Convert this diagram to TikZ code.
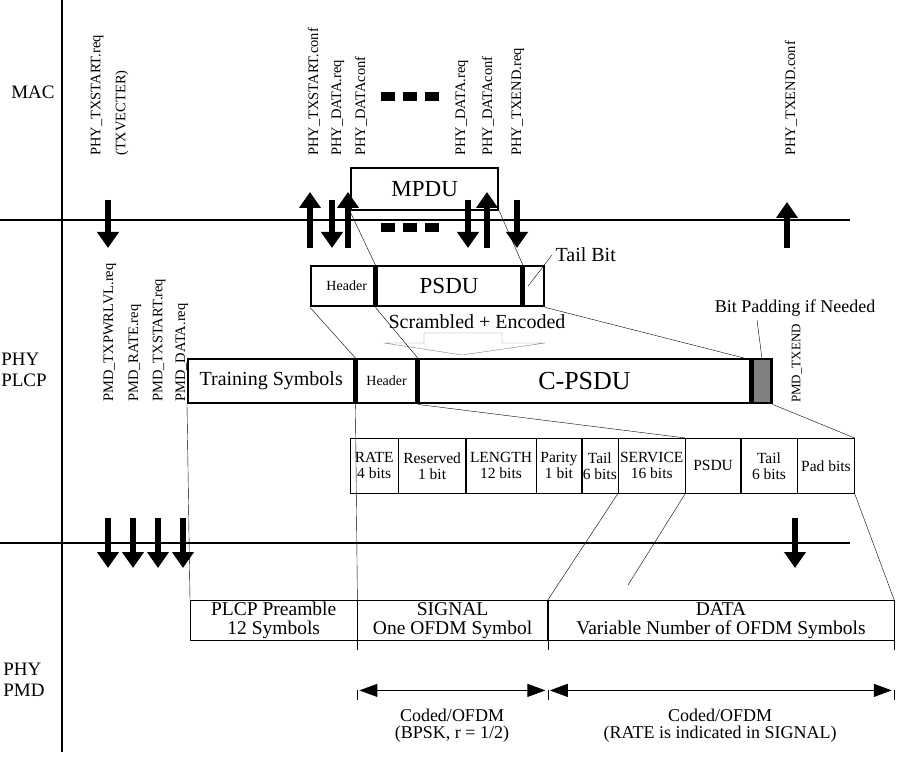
\documentclass[tikz,border=0pt]{standalone}
\usepackage{fontspec}
\setmainfont{Liberation Serif}
\usetikzlibrary{arrows.meta,positioning}

\tikzset{
  layer/.style={font=\fontsize{19}{21}\selectfont, align=left},
  prim/.style={rotate=90, anchor=west, inner sep=1pt, font=\fontsize{14.5}{15}\selectfont},
  bigbox/.style={draw, line width=2.4pt, inner sep=0pt},
  cell/.style={draw, thin, inner sep=0pt, font=\fontsize{15.5}{16}\selectfont, align=center},
  frame/.style={draw, thin, inner sep=0pt, font=\fontsize{19.5}{19}\selectfont, align=center},
  sig/.style={line width=5.5pt, -{Triangle[width=21pt,length=16pt]}},
  thinline/.style={draw, line width=0.4pt},
  dot/.style={fill, minimum width=14pt, minimum height=9pt, inner sep=0pt}
}

\begin{document}
\begin{tikzpicture}[x=1pt, y=-1pt]
	\useasboundingbox (0,0) rectangle (899,759);

	% layers
	\draw[line width=2pt] (62,0) -- (62,752);
	\draw[line width=2.4pt] (0,220) -- (850,220);
	\draw[line width=2.4pt] (0,543) -- (850,543);
	\node[layer] (mac)  at (33,92)  {MAC};
	\node[layer] (plcp) at (24,370) {PHY\\PLCP};
	\node[layer] (pmd)  at (24,680) {PHY\\PMD};

	% MAC primitives
	\foreach \x/\t in {97/PHY\_TXSTART.req, 122/(TXVECTER), 314/PHY\_TXSTART.conf,
		338/PHY\_DATA.req, 361/PHY\_DATAconf, 462/PHY\_DATA.req, 488/PHY\_DATAconf,
		518/PHY\_TXEND.req, 791/PHY\_TXEND.conf}
		\node[prim] at (\x,157) {\t};
	\foreach \x in {388,410,432} {
		\node[dot] at (\x,97) {};
		\node[dot] at (\x,228) {};
	}

	% MAC/PLCP signals
	\foreach \x in {108,332,468,517} \draw[sig] (\x,200) -- (\x,248);
	\foreach \x in {310,348,487} \draw[sig] (\x,248) -- (\x,192);
	\draw[sig] (787,248) -- (787,202);

	% PLCP primitives
	\foreach \x/\t in {110/PMD\_TXPWRLVL.req, 135/PMD\_RATE.req, 159/PMD\_TXSTART.req, 182/PMD\_DATA.req}
		\node[prim] at (\x,403) {\t};
	\node[prim, font=\fontsize{13}{13}\selectfont] at (797,404) {PMD\_TXEND};
	\foreach \x in {108,133,158,183} \draw[sig] (\x,518) -- (\x,568);
	\draw[sig] (795,518) -- (795,568);

	% MPDU and PSDU
	\node[bigbox, minimum width=147pt, minimum height=42pt, anchor=north west,
		font=\fontsize{23}{23}\selectfont] (mpdu) at (350,167) {MPDU};
	\node[bigbox, minimum width=63pt, minimum height=40pt, anchor=north west,
		font=\fontsize{14}{14}\selectfont] (hdr) at (310,265) {\hspace*{8pt}Header};
	\node[bigbox, minimum width=145pt, minimum height=40pt, anchor=north west,
		font=\fontsize{23}{23}\selectfont] (psdu) at (hdr.north east) {PSDU};
	\node[bigbox, minimum width=20pt, minimum height=40pt, anchor=north west] (tail) at (psdu.north east) {};
	\node[font=\fontsize{20}{20}\selectfont, anchor=west] (tailbit) at (552,255) {Tail Bit};
	\draw[thinline] (tail.center) ++(-6,0) -- (tailbit.west);
	\draw[thinline] (mpdu.south west) -- (psdu.north west);
	\draw[thinline] (mpdu.south east) -- (tail.north west);

	\node[font=\fontsize{20}{20}\selectfont] (scr) at (477,322) {Scrambled + Encoded};
	\draw[thinline, gray] (424,333) -- (502,333) -- (502,343) -- (545,343) -- (462,355)
		-- (384,343) -- (424,343) -- cycle;

	% C-PSDU
	\node[bigbox, minimum width=166pt, minimum height=44pt, anchor=north west,
		font=\fontsize{20}{20}\selectfont] (train) at (187,358) {Training Symbols};
	\node[bigbox, minimum width=60pt, minimum height=44pt, anchor=north west,
		font=\fontsize{14}{14}\selectfont] (chdr) at (train.north east) {Header};
	\node[bigbox, minimum width=331pt, minimum height=44pt, anchor=north west,
		font=\fontsize{26}{26}\selectfont] (cpsdu) at (chdr.north east) {C-PSDU};
	\node[bigbox, fill=gray, minimum width=19pt, minimum height=44pt, anchor=north west] (pad) at (cpsdu.north east) {};
	\node[font=\fontsize{18}{18}\selectfont] (padtxt) at (795,308) {Bit Padding if Needed};
	\draw[thinline] (757,320) -- (pad.north);
	\draw[thinline] (hdr.south west) -- (chdr.north west);
	\draw[thinline] (hdr.south east) -- (cpsdu.north west);
	\draw[thinline] (tail.south east) -- (744,358);

	% SIGNAL fields
	\node[cell, minimum width=48pt, minimum height=55pt, anchor=north west] (rate) at (350,438) {RATE\\4 bits};
	\node[cell, minimum width=67pt, minimum height=55pt, anchor=north west] (resv) at (rate.north east) {Reserved\\1 bit};
	\node[cell, minimum width=70pt, minimum height=55pt, anchor=north west] (len) at (resv.north east) {LENGTH\\12 bits};
	\node[cell, minimum width=45pt, minimum height=55pt, anchor=north west] (par) at (len.north east) {Parity\\1 bit};
	\node[cell, minimum width=36pt, minimum height=55pt, anchor=north west] (stail) at (par.north east) {Tail\\6 bits};
	\node[cell, minimum width=67pt, minimum height=55pt, anchor=north west] (serv) at (stail.north east) {SERVICE\\16 bits};
	\node[cell, minimum width=55pt, minimum height=55pt, anchor=north west] (dpsdu) at (serv.north east) {PSDU};
	\node[cell, minimum width=56pt, minimum height=55pt, anchor=north west] (dtail) at (dpsdu.north east) {Tail\\6 bits};
	\node[cell, minimum width=57pt, minimum height=55pt, anchor=north west] (dpad) at (dtail.north east) {Pad bits};
	\draw[thinline] (chdr.south east) -- (dpsdu.north west);
	\draw[thinline] (pad.south east) -- (dpad.north east);

	% PMD frame
	\node[frame, minimum width=167pt, minimum height=40pt, anchor=north west] (pre) at (190,600) {PLCP Preamble\\ 12 Symbols};
	\node[frame, minimum width=190pt, minimum height=40pt, anchor=north west] (signal) at (pre.north east) {SIGNAL\\One OFDM Symbol};
	\node[frame, minimum width=346pt, minimum height=40pt, anchor=north west] (data) at (signal.north east) {DATA\\Variable Number of OFDM Symbols};
	\coordinate (dmid) at (628,585);
	\draw[thinline] (train.south west) -- (pre.north west);
	\draw[thinline] (chdr.south west) -- (signal.north west);
	\draw[thinline] (stail.south east) -- (data.north west);
	\draw[thinline] (dpsdu.south west) -- (dmid);
	\draw[thinline] (dpad.south east) -- (data.north east);

	% coding spans
	\foreach \n in {signal.south west, data.south west, data.south east}
		\draw[thinline, dash pattern=on 10pt off 40pt] (\n) -- ++(0,62);
	\draw[line width=1pt, {Triangle[width=13pt,length=18pt]}-{Triangle[width=13pt,length=18pt]}]
		(signal.south west) ++(2,50) -- ++(186,0);
	\draw[line width=1pt, {Triangle[width=13pt,length=18pt]}-{Triangle[width=13pt,length=18pt]}]
		(data.south west) ++(2,50) -- ++(342,0);
	\node[font=\fontsize{18}{17}\selectfont, align=center] (sigcode) at (452,726) {Coded/OFDM\\(BPSK, r = 1/2)};
	\node[font=\fontsize{18}{17}\selectfont, align=center] (datacode) at (720,726) {Coded/OFDM\\(RATE is indicated in SIGNAL)};
\end{tikzpicture}
\end{document}
